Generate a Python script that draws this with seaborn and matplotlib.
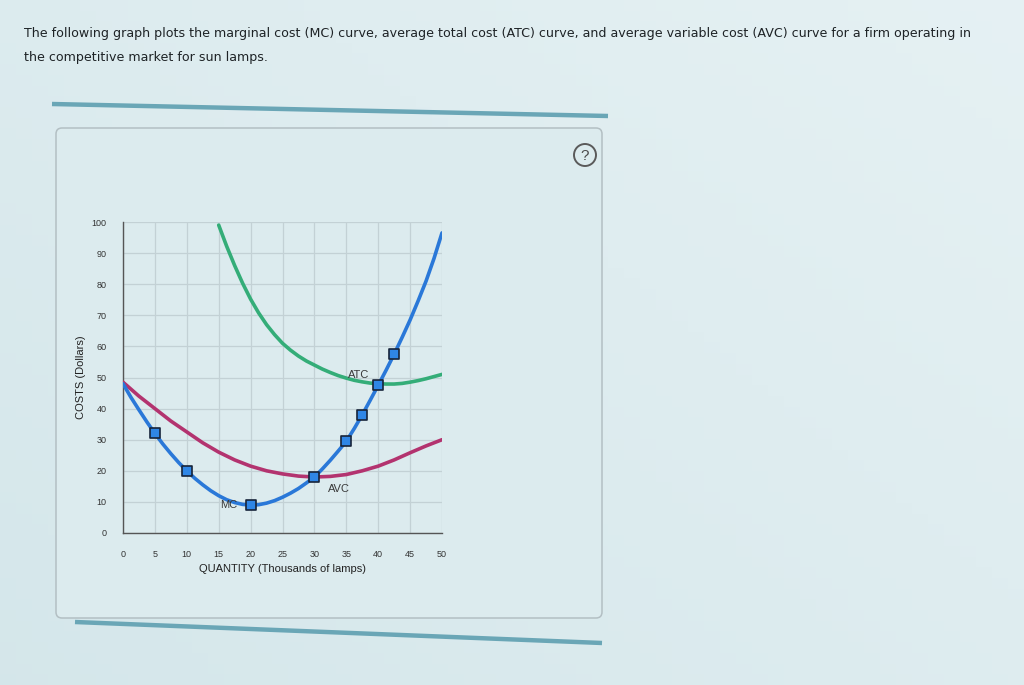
import numpy as np
import pandas as pd
import matplotlib.pyplot as plt
from matplotlib.patches import FancyBboxPatch, Circle
import seaborn as sns

# curves (quantity in thousands, cost in dollars)
q_mc = [0, 1.25, 2.5, 3.75, 5, 6.25, 7.5, 8.75, 10, 11.25, 12.5, 13.75, 15,
        16.25, 17.5, 18.75, 20, 21.25, 22.5, 23.75, 25, 26.25, 27.5, 28.75, 30,
        31.25, 32.5, 33.75, 35, 36.25, 37.5, 38.75, 40, 41.25, 42.5, 43.75, 45,
        46.25, 47.5, 48.75, 50]
mc_cost = [48, 43.6, 39.6, 35.7, 32, 28.6, 25.5, 22.6, 20, 17.6, 15.5, 13.6, 12,
           10.7, 9.8, 9.2, 9, 9.1, 9.6, 10.4, 11.5, 12.8, 14.3, 16.1, 18,
           20.6, 23.4, 26.4, 29.5, 33.6, 38, 42.7, 47.5, 52.4, 57.5, 62.9, 68.5,
           74.6, 81, 88.3, 96.5]
q_avc = [0, 2.5, 5, 7.5, 10, 12.5, 15, 17.5, 20, 22.5, 25, 27.5, 30,
         32.5, 35, 37.5, 40, 42.5, 45, 47.5, 50]
avc_cost = [48.5, 44, 40, 36, 32.5, 29, 26, 23.5, 21.5, 20, 19, 18.3, 18,
            18.2, 18.8, 20, 21.5, 23.5, 25.8, 28, 30]
q_atc = [15, 16.25, 17.5, 18.75, 20, 21.25, 22.5, 23.75, 25, 26.25, 27.5, 28.75,
         30, 31.25, 32.5, 33.75, 35, 36.25, 37.5, 38.75, 40, 41.25, 42.5, 43.75,
         45, 46.25, 47.5, 48.75, 50]
atc_cost = [99, 92.2, 86, 80.3, 75.2, 70.8, 67, 63.8, 61, 58.8, 56.9, 55.3,
            54, 52.7, 51.6, 50.6, 49.8, 49.1, 48.6, 48.2, 48, 47.9, 47.9, 48.1,
            48.5, 49, 49.6, 50.3, 51]

# square markers on the MC curve
q_points = [5, 10, 20, 30, 35, 37.5, 40, 42.5]
mc_points = [32, 20, 9, 18, 29.5, 38, 47.5, 57.5]

x_ticks = [0, 5, 10, 15, 20, 25, 30, 35, 40, 45, 50]
y_ticks = [0, 10, 20, 30, 40, 50, 60, 70, 80, 90, 100]

question = ("The following graph plots the marginal cost (MC) curve, average total cost (ATC) curve, "
            "and average variable cost (AVC) curve for a firm operating in")
question2 = "the competitive market for sun lamps."

sns.set_theme(style="white")
plt.rcParams["font.family"] = ["Liberation Sans", "DejaVu Sans"]

W, H = 1024, 685
fig = plt.figure(figsize=(W / 100, H / 100), dpi=100)

# page background, pixel coordinates
bg = fig.add_axes([0, 0, 1, 1])
bg.set_xlim(0, W)
bg.set_ylim(H, 0)
bg.axis("off")
gx = np.linspace(0, 1, 64)
gy = np.linspace(0, 1, 64)
shade = 0.55 * gx[None, :] - 0.45 * gy[:, None]
c0 = np.array([0.835, 0.905, 0.920])
c1 = np.array([0.900, 0.945, 0.955])
img = c0 + (c1 - c0) * (shade[..., None] + 0.45)
bg.imshow(np.clip(img, 0, 1), extent=[0, W, H, 0], aspect="auto", zorder=0)

bg.text(24, 33, question, fontsize=9.05, color="#1e2326", va="center",
        family=["DejaVu Sans"])
bg.text(24, 57, question2, fontsize=9.05, color="#1e2326", va="center",
        family=["DejaVu Sans"])

bg.plot([52, 608], [104, 116], color="#6aa6b6", lw=3.2, solid_capstyle="butt", zorder=2)
bg.plot([75, 602], [622, 643], color="#6aa6b6", lw=3.2, solid_capstyle="butt", zorder=2)

box = FancyBboxPatch((56, 128), 546, 490, boxstyle="round,pad=0,rounding_size=6",
                     facecolor="#dcebee", edgecolor="#b3bfc3", lw=1.1, zorder=1)
bg.add_patch(box)
bg.add_patch(Circle((585, 155), 11, facecolor="none", edgecolor="#5a5a5a", lw=1.4, zorder=3))
bg.text(585, 155.5, "?", fontsize=11, color="#4a4a4a", ha="center", va="center", zorder=3)

# chart
ax = fig.add_axes([123 / W, 1 - 533 / H, (442 - 123) / W, (533 - 222) / H])
ax.set_facecolor("none")

curves = pd.concat([
    pd.DataFrame({"q": q_avc, "cost": avc_cost, "curve": "AVC"}),
    pd.DataFrame({"q": q_atc, "cost": atc_cost, "curve": "ATC"}),
    pd.DataFrame({"q": q_mc, "cost": mc_cost, "curve": "MC"}),
])
palette = {"MC": "#2a78d8", "ATC": "#34ad78", "AVC": "#b3336f"}
sns.lineplot(data=curves, x="q", y="cost", hue="curve", palette=palette,
             estimator=None, sort=False, lw=2.6, legend=False, ax=ax, zorder=3)

pts = pd.DataFrame({"q": q_points, "cost": mc_points})
sns.scatterplot(data=pts, x="q", y="cost", marker="s", s=62, color="#2f86e6",
                edgecolor="#17243a", linewidth=1.2, legend=False, ax=ax, zorder=4)

ax.text(17.9, 9, "MC", fontsize=8, color="#3a3a3a", ha="right", va="center", zorder=5)
ax.text(35.2, 50.8, "ATC", fontsize=8, color="#3a3a3a", ha="left", va="center", zorder=5)
ax.text(32.2, 14.3, "AVC", fontsize=8, color="#3a3a3a", ha="left", va="center", zorder=5)

ax.set_xlim(0, 50)
ax.set_ylim(0, 100)
ax.set_xticks(x_ticks)
ax.set_yticks(y_ticks)
ax.grid(True, color="#c3d1d5", lw=0.9)
ax.set_axisbelow(True)
for side in ["top", "right"]:
    ax.spines[side].set_visible(False)
for side in ["left", "bottom"]:
    ax.spines[side].set_color("#555555")
    ax.spines[side].set_linewidth(1.0)
ax.tick_params(direction="inout", length=8, width=1, color="#555555",
               labelsize=6.5, labelcolor="#333333", pad=8)
ax.tick_params(axis="y", pad=8)
ax.set_xlabel("QUANTITY (Thousands of lamps)", fontsize=8, color="#222222", labelpad=4)
ax.set_ylabel("COSTS (Dollars)", fontsize=8, color="#222222", labelpad=4)

fig.savefig("out.png", dpi=100)
